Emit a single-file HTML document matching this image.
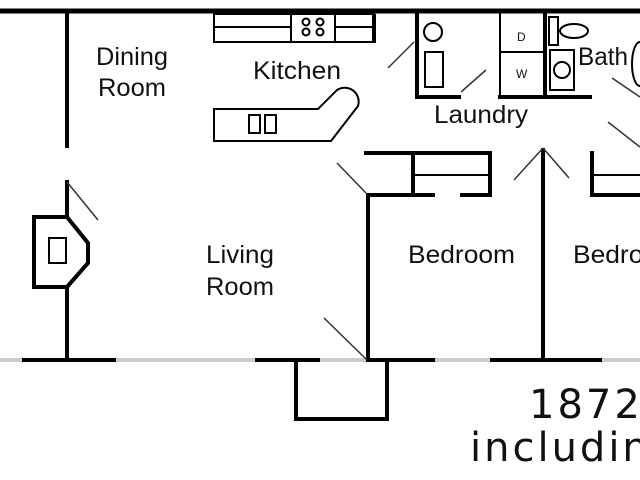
<!DOCTYPE html>
<html><head><meta charset="utf-8"><style>
html,body{margin:0;padding:0;background:#fff;}
svg{display:block;}
.t{font-family:"Liberation Sans",sans-serif;fill:#111;}
</style></head><body>
<svg width="640" height="480" viewBox="0 0 640 480" xmlns="http://www.w3.org/2000/svg">
<rect width="640" height="480" fill="#fff"/>
<line x1="0" y1="360" x2="640" y2="360" stroke="#ccc" stroke-width="4"/>
<g stroke="#000" fill="none" stroke-width="4" stroke-linecap="square">
<line x1="0" y1="11" x2="640" y2="11" stroke-width="5"/>
<line x1="67" y1="11" x2="67" y2="146"/>
<line x1="67" y1="182" x2="67" y2="217"/>
<line x1="67" y1="287" x2="67" y2="360"/>
<path d="M67 217 H34 V287 H67 L88 263 V243 Z"/>
<line x1="24" y1="360" x2="114" y2="360"/>
<line x1="257" y1="360" x2="318" y2="360"/>
<line x1="370" y1="360" x2="433" y2="360"/>
<line x1="492" y1="360" x2="600" y2="360"/>
<path d="M296 360 V419 H387 V360"/>
<line x1="368" y1="195" x2="368" y2="360"/>
<line x1="543" y1="150" x2="543" y2="360"/>
<line x1="366" y1="153" x2="490" y2="153"/>
<line x1="413" y1="153" x2="413" y2="195"/>
<line x1="490" y1="153" x2="490" y2="195"/>
<line x1="368" y1="195" x2="433" y2="195"/>
<line x1="462" y1="195" x2="490" y2="195"/>
<line x1="592" y1="153" x2="592" y2="195"/>
<line x1="592" y1="195" x2="640" y2="195"/>
<line x1="417" y1="13" x2="417" y2="97"/>
<line x1="417" y1="97" x2="459" y2="97"/>
<line x1="500" y1="97" x2="590" y2="97"/>
<line x1="545" y1="13" x2="545" y2="97"/>
</g>
<g stroke="#000" fill="none" stroke-width="2">
<line x1="413" y1="175" x2="490" y2="175"/>
<line x1="592" y1="175" x2="640" y2="175"/>
<rect x="49" y="238" width="17" height="25"/>
<rect x="214" y="14" width="160" height="28"/>
<line x1="214" y1="27" x2="291" y2="27"/>
<line x1="335" y1="27" x2="374" y2="27"/>
<line x1="291" y1="14" x2="291" y2="42"/>
<line x1="335" y1="14" x2="335" y2="42"/>
<line x1="374" y1="14" x2="374" y2="43" stroke-width="4"/>
<circle cx="306" cy="22" r="3.5"/><circle cx="320" cy="22" r="3.5"/>
<circle cx="306" cy="32" r="3.5"/><circle cx="320" cy="32" r="3.5"/>
<path d="M214 109 H318 L337 90 A14 14 0 0 1 358 106 L331 141 H214 Z"/>
<rect x="249" y="115" width="11" height="18"/>
<rect x="265" y="115" width="11" height="18"/>
<circle cx="433" cy="32" r="9"/>
<rect x="425" y="52" width="18" height="35"/>
<line x1="500" y1="13" x2="500" y2="97"/>
<line x1="500" y1="52" x2="545" y2="52"/>
<rect x="549" y="17" width="9" height="28"/>
<ellipse cx="574" cy="31" rx="14" ry="7"/>
<rect x="550" y="50" width="24" height="40"/>
<circle cx="562" cy="70" r="8"/>
<path d="M640 42 A8 22 0 0 0 640 86"/>
</g>
<g stroke="#333" stroke-width="1.5">
<line x1="67" y1="182" x2="98" y2="220"/>
<line x1="388" y1="68" x2="414" y2="42"/>
<line x1="461" y1="92" x2="486" y2="70"/>
<line x1="612" y1="78" x2="640" y2="97"/>
<line x1="337" y1="163" x2="366" y2="193"/>
<line x1="514" y1="180" x2="543" y2="148"/>
<line x1="543" y1="148" x2="569" y2="178"/>
<line x1="608" y1="122" x2="640" y2="147"/>
<line x1="324" y1="318" x2="367" y2="360"/>
</g>
<text class="t" x="96" y="65" font-size="25" textLength="72" lengthAdjust="spacingAndGlyphs">Dining</text>
<text class="t" x="98" y="96" font-size="25" textLength="68" lengthAdjust="spacingAndGlyphs">Room</text>
<text class="t" x="253" y="79" font-size="25" textLength="88" lengthAdjust="spacingAndGlyphs">Kitchen</text>
<text class="t" x="434" y="123" font-size="25" textLength="94" lengthAdjust="spacingAndGlyphs">Laundry</text>
<text class="t" x="578" y="65" font-size="25" textLength="50" lengthAdjust="spacingAndGlyphs">Bath</text>
<text class="t" x="517" y="41" font-size="12" textLength="9">D</text>
<text class="t" x="516" y="78" font-size="12" textLength="11">W</text>
<text class="t" x="206" y="263" font-size="25" textLength="68" lengthAdjust="spacingAndGlyphs">Living</text>
<text class="t" x="206" y="295" font-size="25" textLength="68" lengthAdjust="spacingAndGlyphs">Room</text>
<text class="t" x="408" y="263" font-size="25" textLength="107" lengthAdjust="spacingAndGlyphs">Bedroom</text>
<text class="t" x="573" y="263" font-size="25" textLength="107" lengthAdjust="spacingAndGlyphs">Bedroom</text>
<text x="529" y="418" font-family="'DejaVu Sans',sans-serif" font-size="40" fill="#111" letter-spacing="3">1872</text>
<text x="470" y="461" font-family="'DejaVu Sans',sans-serif" font-size="40" fill="#111" letter-spacing="3">including</text>
</svg>
</body></html>
